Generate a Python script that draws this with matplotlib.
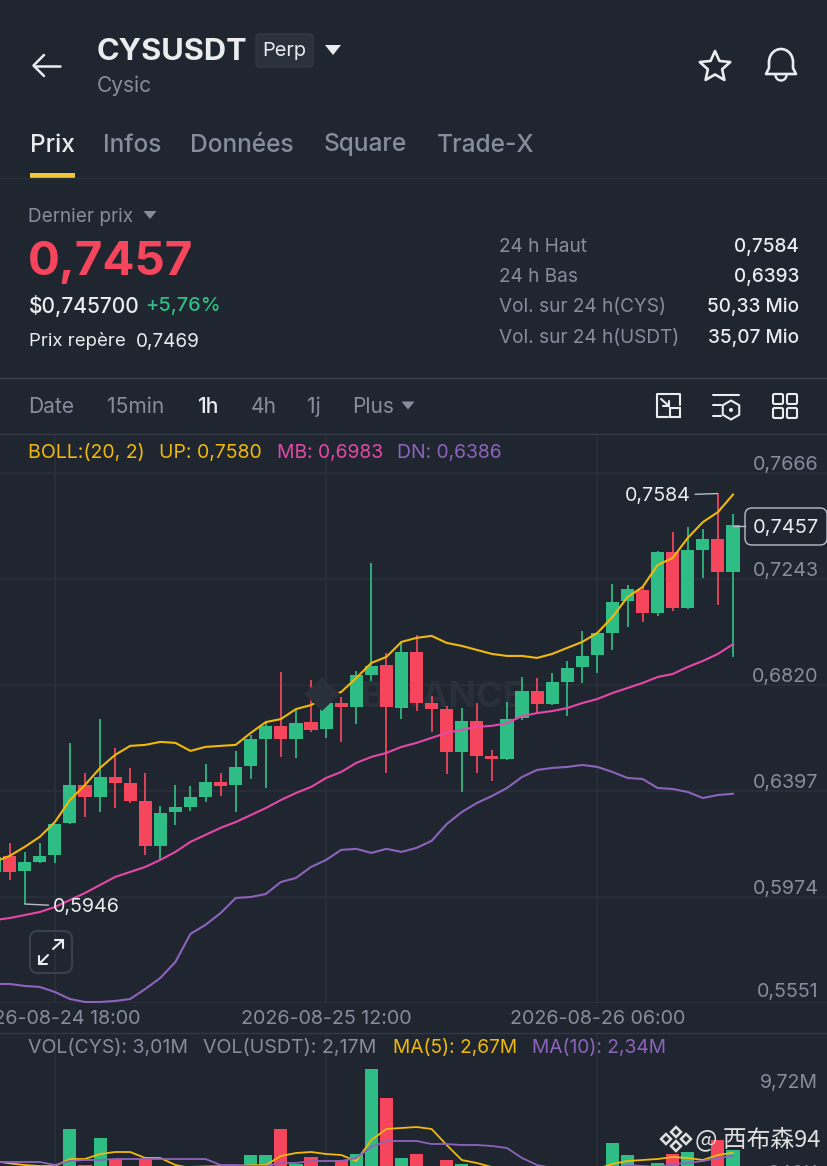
import math
import matplotlib
matplotlib.use("Agg")
import matplotlib.pyplot as plt
from matplotlib.patches import FancyBboxPatch, Polygon, Rectangle, Circle, Arc, RegularPolygon

BG = '#1F2630'; GRID = '#2B313B'; GRAY = '#848E9C'; WHITE = '#EAECEF'
GREEN = '#2EBD85'; RED = '#F6465D'; YELLOW = '#F0B90B'; PINK = '#E548A8'; PURPLE = '#8E63BC'
plt.rcParams['font.family'] = ['Inter', 'DejaVu Sans']

# ---------- data ----------
opens = [.6074,.6138,.6078,.6114,.6142,.6269,.6421,.6373,.6453,.6429,.6357,.6178,.6313,.6333,.6373,.6433,.6421,.6497,.6605,.6656,
         .6605,.6672,.6645,.6748,.6732,.6860,.6900,.6728,.6952,.6748,.6724,.6553,.6676,.6537,.6525,.6688,.6796,.6744,.6832,.6892,
         .6940,.7028,.7155,.7199,.7107,.7351,.7127,.7359,.7403,.7271]
highs = [.6162,.6190,.6154,.6190,.6265,.6589,.6469,.6684,.6569,.6489,.6469,.6337,.6421,.6417,.6505,.6469,.6557,.6621,.6668,.6872,
         .6720,.6840,.6760,.6772,.6876,.7307,.6948,.6988,.7020,.6776,.6736,.6728,.6748,.6561,.6752,.6852,.6848,.6868,.6916,.7036,
         .7028,.7223,.7219,.7211,.7355,.7431,.7451,.7443,.7584,.7502]
lows = [.5994,.6042,.5946,.6110,.6110,.6265,.6293,.6313,.6329,.6349,.6142,.6122,.6261,.6317,.6353,.6377,.6313,.6445,.6409,.6533,
        .6529,.6633,.6609,.6593,.6664,.6836,.6469,.6684,.6716,.6633,.6465,.6393,.6469,.6437,.6521,.6680,.6712,.6740,.6696,.6828,
        .6868,.6960,.7052,.7071,.7095,.7115,.7123,.7247,.7139,.6932]
closes = [.6134,.6074,.6114,.6138,.6265,.6421,.6373,.6453,.6429,.6357,.6178,.6309,.6333,.6373,.6433,.6417,.6493,.6605,.6656,.6605,
          .6668,.6641,.6748,.6732,.6860,.6896,.6732,.6952,.6748,.6724,.6553,.6676,.6537,.6525,.6684,.6796,.6744,.6832,.6888,.6936,
          .7028,.7151,.7203,.7107,.7351,.7127,.7359,.7403,.7271,.7457]
boll_up = [.6114,.6138,.6174,.6214,.6273,.6361,.6421,.6489,.6541,.6577,.6581,.6593,.6589,.6557,.6573,.6577,.6581,.6629,.6672,.6684,
           .6724,.6740,.6772,.6792,.6848,.6908,.6932,.6992,.7008,.7016,.6988,.6976,.6960,.6944,.6936,.6936,.6928,.6944,.6968,.6992,
           .7028,.7091,.7171,.7211,.7299,.7327,.7407,.7470,.7510,.7580]
boll_mb = [.5882,.5890,.5902,.5914,.5934,.5962,.5990,.6022,.6054,.6074,.6094,.6122,.6154,.6194,.6222,.6250,.6273,.6301,.6329,.6361,
           .6389,.6413,.6449,.6473,.6509,.6533,.6549,.6573,.6589,.6609,.6629,.6641,.6653,.6657,.6668,.6696,.6708,.6716,.6728,.6748,
           .6764,.6788,.6808,.6828,.6852,.6864,.6892,.6916,.6944,.6983]
boll_dn = [.5627,.5627,.5619,.5615,.5595,.5567,.5555,.5555,.5559,.5567,.5607,.5651,.5715,.5827,.5863,.5910,.5970,.5974,.5986,.6034,
           .6050,.6094,.6122,.6162,.6166,.6150,.6166,.6154,.6170,.6198,.6265,.6313,.6349,.6377,.6409,.6453,.6481,.6489,.6493,.6501,
           .6493,.6473,.6449,.6445,.6409,.6405,.6393,.6369,.6381,.6386]
volumes = [1.0,1.0,1.0,1.0,1.0,5.28,1.32,4.29,1.98,1.0,1.98,1.0,1.0,1.0,1.0,1.0,1.0,2.42,2.42,5.28,
           1.43,2.2,1.0,1.87,2.53,11.88,8.69,2.09,2.53,1.0,1.87,1.43,1.0,1.0,1.0,1.0,1.0,1.0,1.0,1.0,
           1.0,3.74,2.42,1.0,1.54,2.53,2.75,1.0,4.07,3.01]
vol_ma5 = [1.76,1.5,1.32,1.21,1.21,1.98,1.98,2.53,2.75,2.75,2.09,2.09,1.32,1.0,1.0,1.0,1.0,1.1,1.32,2.31,
           2.64,2.75,2.53,2.42,1.76,4.07,5.28,5.39,5.5,5.28,3.52,1.87,1.54,1.1,.9,.9,.9,.9,.9,.9,
           .9,1.43,1.76,1.87,1.98,2.2,2.09,1.87,2.42,2.67]
vol_ma10 = [1.65,1.65,1.65,1.65,1.32,1.76,1.87,1.87,1.98,1.98,1.98,1.98,1.98,1.98,1.98,1.32,1.32,1.21,1.21,1.54,
            1.54,1.76,1.76,1.76,2.09,3.3,3.96,3.96,3.96,3.63,3.63,3.52,3.52,3.41,3.19,2.09,1.32,1.0,.9,.9,
            .9,.9,1.32,1.21,1.1,1.43,1.54,1.76,2.09,2.34]
price_ticks = [.7666,.7243,.6820,.6397,.5974,.5551]
price_tick_labels = ['0,7666','0,7243','0,6820','0,6397','0,5974','0,5551']
vol_tick_labels = ['9,72M','840K']
time_ticks = [4,22,40]
time_labels = ['2026-08-24 18:00','2026-08-25 12:00','2026-08-26 06:00']
tabs = [('Prix',30),('Infos',103.5),('Données',190.5),('Square',323.5),('Trade-X',436.5)]
stats = [('24 h Haut','0,7584'),('24 h Bas','0,6393'),('Vol. sur 24 h(CYS)','50,33 Mio'),('Vol. sur 24 h(USDT)','35,07 Mio')]
periods = [('Date',28.5),('15min',107.5),('1h',197),('4h',251),('1j',307),('Plus',352.5)]

W, H = 828, 1166
fig = plt.figure(figsize=(W/100, H/100), dpi=100, facecolor=BG)

def axes_px(top, bottom):
    return fig.add_axes([0, 1-bottom/H, 1, (bottom-top)/H], facecolor='none')

XLIM = (49-733/15.07, 49+95/15.07)
n = len(opens)
xs = list(range(n))

# ---------- price panel ----------
ax = axes_px(434, 1003)
ax.set_xlim(*XLIM)
ax.set_ylim(.5551, .7666+39*.000399)
ax.set_yticks(price_ticks); ax.set_yticklabels([])
ax.set_xticks(time_ticks); ax.set_xticklabels(time_labels, color=GRAY, fontsize=14.2)
ax.tick_params(length=0, pad=5)
ax.grid(True, color=GRID, lw=1.1, zorder=0)
for s in ax.spines.values():
    s.set_visible(False)
for t, lab in zip(price_ticks, price_tick_labels):
    lift = 11 if t == min(price_ticks) else 8
    ax.annotate(lab, (1, t), xycoords=('axes fraction','data'), xytext=(-9.5, lift), textcoords='offset pixels',
                ha='right', va='center', color=GRAY, fontsize=14.2)

wm = '#2A303A'
ax.annotate('BINANCE', (0, .6820), xycoords=('axes fraction','data'), xytext=(361, -13), textcoords='offset pixels',
            ha='left', va='center', color=wm, fontsize=26, fontweight='bold', zorder=1)

colors = [GREEN if c >= o else RED for o, c in zip(opens, closes)]
ax.vlines(xs, lows, highs, colors=colors, lw=1.25, zorder=3)
ax.bar(xs, [abs(c-o) for o, c in zip(opens, closes)], bottom=[min(o, c) for o, c in zip(opens, closes)],
       width=.87, color=colors, zorder=3, lw=0)
ax.plot(xs, boll_up, color=YELLOW, lw=1.5, zorder=4)
ax.plot(xs, boll_mb, color=PINK, lw=1.5, zorder=4)
ax.plot(xs, boll_dn, color=PURPLE, lw=1.5, zorder=4)

ax.annotate('0,7584', xy=(48, max(highs)), xytext=(-27, -2), textcoords='offset pixels', ha='right', va='center',
            color=WHITE, fontsize=14.2, zorder=6, arrowprops=dict(arrowstyle='-', color='#B7BDC6', lw=1, shrinkA=1, shrinkB=0))
ax.annotate('0,5946', xy=(2, min(lows)), xytext=(28, -3), textcoords='offset pixels', ha='left', va='center',
            color=WHITE, fontsize=14.2, zorder=6, arrowprops=dict(arrowstyle='-', color='#B7BDC6', lw=1, shrinkA=1, shrinkB=0))

# ---------- volume panel ----------
vx = axes_px(1033, H)
vx.set_xlim(*XLIM)
vx.set_ylim(1.21, 15.84)
vx.set_xticks(time_ticks); vx.set_xticklabels([])
vx.set_yticks([]); vx.tick_params(length=0)
vx.grid(True, axis='x', color=GRID, lw=1.1, zorder=0)
for s in vx.spines.values():
    s.set_visible(False)
vx.bar(xs, volumes, width=.87, color=colors, zorder=3, lw=0)
vx.plot(xs, vol_ma5, color=YELLOW, lw=1.3, zorder=4)
vx.plot(xs, vol_ma10, color=PURPLE, lw=1.3, zorder=4)

# ---------- UI overlay in pixel coordinates ----------
ui = fig.add_axes([0, 0, 1, 1], facecolor='none', zorder=10)
ui.set_xlim(0, W); ui.set_ylim(H, 0); ui.axis('off')

def T(x, y, s, px=20, color=WHITE, weight='normal', ha='left', family=None):
    kw = {'family': family} if family else {}
    return ui.text(x, y + 2, s, fontsize=px*.72, color=color, fontweight=weight, ha=ha, va='center', **kw)

def L(xs_, ys_, color=WHITE, lw=1.5):
    ui.plot(xs_, ys_, color=color, lw=lw, solid_capstyle='round', solid_joinstyle='round')

def tri(cx, cy, w, h, color):
    ui.add_patch(Polygon([(cx-w/2, cy-h/2), (cx+w/2, cy-h/2), (cx, cy+h/2)], closed=True, color=color, lw=0))

for y, c in [(178, '#2A303A'), (378, '#3A414C'), (434, '#343A45'), (1033, '#343A45')]:
    ui.plot([0, W], [y, y], color=c, lw=1)

# header
L([34, 60], [65.5, 65.5], lw=1.8); L([44, 33.5, 44], [55, 65.5, 76], lw=1.8)
T(96.5, 50, 'CYSUSDT', 30.8, '#EAECEF', 'bold')
ui.add_patch(FancyBboxPatch((256, 34), 57, 33, boxstyle='round,pad=0,rounding_size=4', fc='#2B313B', ec='#343A45', lw=1))
T(284.5, 49.5, 'Perp', 20, WHITE, ha='center')
tri(333, 50, 16, 10, WHITE)
T(96.5, 83.5, 'Cysic', 21, GRAY)

# star
pts = []
for k in range(10):
    r = 16 if k % 2 == 0 else 7.5
    a = -math.pi/2 + k*math.pi/5
    pts.append((715 + r*math.cos(a), 67 + r*math.sin(a)))
ui.add_patch(Polygon(pts, closed=True, fill=False, ec=WHITE, lw=1.9, joinstyle='round'))
# bell
ui.add_patch(Arc((781, 62), 24, 26, theta1=180, theta2=360, ec=WHITE, lw=1.9))
L([769, 769, 766, 796, 793, 793], [62, 68, 74, 74, 68, 62], lw=1.9)
ui.add_patch(Arc((781, 75), 11, 11, theta1=0, theta2=180, ec=WHITE, lw=1.7))

# tabs
for i, (s, x) in enumerate(tabs):
    T(x, 143, s, 24.5, WHITE if i == 0 else GRAY, 'medium')
ui.add_patch(Rectangle((30, 172.5), 45, 5, color='#F0C93A', lw=0))

# price block
T(28.5, 215, 'Dernier prix', 19, GRAY)
tri(150, 215, 13, 8, GRAY)
T(28, 261, '0,7457', 47.5, RED, 'bold')
T(29, 304, '$0,745700', 21, WHITE, 'medium')
T(145, 304, '+5,76%', 20, GREEN, 'medium')
T(29, 339.5, 'Prix repère', 18.6, WHITE)
T(136, 339.5, '0,7469', 19, WHITE)
for (a, b), y in zip(stats, [245, 275, 305, 336]):
    T(499, y, a, 19, GRAY)
    T(799, y, b, 19, WHITE, 'medium', ha='right')

# period bar
for s, x in periods:
    T(x, 405, s, 21, WHITE if s == '1h' else GRAY, 'medium' if s == '1h' else 'normal')
tri(408, 405.5, 13, 8, GRAY)

# toolbar icons
c = '#EAECEF'
L([668, 657, 657, 668], [394, 394, 417, 417], c, 1.5)
L([669, 680, 680], [394, 394, 405], c, 1.5)
ui.add_patch(Rectangle((670, 408), 10, 9, fill=False, ec=c, lw=1.5))
L([661, 669], [399, 406], c, 1.5); L([669, 669, 663], [401, 406, 406], c, 1.5)
L([713, 739], [395, 395], c, 1.5); L([713, 721], [405, 405], c, 1.5); L([713, 721], [416, 416], c, 1.5)
ui.add_patch(RegularPolygon((731, 410), 6, radius=9.5, fill=False, ec=c, lw=1.5))
ui.add_patch(Circle((731, 410), 2, color=c, lw=0))
for xx in (773, 787):
    for yy in (394, 408):
        ui.add_patch(FancyBboxPatch((xx, yy), 10, 10, boxstyle='round,pad=0,rounding_size=1.5', fill=False, ec=c, lw=1.5))

# legends
T(28.5, 451, 'BOLL:(20, 2)', 19.5, YELLOW)
T(159, 451, 'UP: 0,7580', 19.5, YELLOW)
T(277, 451, 'MB: 0,6983', 19.3, PINK)
T(397, 451, 'DN: 0,6386', 19.3, PURPLE)
T(28.5, 1046, 'VOL(CYS): 3,01M', 19.5, GRAY)
T(203.5, 1046, 'VOL(USDT): 2,17M', 19.6, GRAY)
T(393, 1046, 'MA(5): 2,67M', 19.2, YELLOW)
T(532, 1046, 'MA(10): 2,34M', 19.2, PURPLE)
T(818, 1081, vol_tick_labels[0], 19.5, GRAY, ha='right')
T(818, 1172, vol_tick_labels[1], 19.5, GRAY, ha='right')

# last price tag
ui.plot([733, 745], [526, 526], color='#B7BDC6', lw=1)
ui.add_patch(FancyBboxPatch((745, 508), 82, 37, boxstyle='round,pad=0,rounding_size=7', fc=BG, ec='#B7BDC6', lw=1))
T(786, 525.5, '0,7457', 20, WHITE, ha='center')

# expand button
ui.add_patch(FancyBboxPatch((30, 931), 42, 42, boxstyle='round,pad=0,rounding_size=8', fill=False, ec='#3A414C', lw=1.5))
L([53, 63], [949, 940]); L([55, 63, 63], [940, 940, 948])
L([39, 48], [964, 955]); L([39, 39, 47], [956, 964, 964])

# watermark logo in chart
ui.add_patch(Polygon([(322, 677), (340, 694), (322, 711), (304, 694)], closed=True, fc='#2A303A', lw=0, zorder=0))

# bottom watermark
w2 = '#E0E0E0'
for cx, cy in [(676, 1132), (676, 1146), (666, 1139), (686, 1139)]:
    ui.add_patch(Polygon([(cx, cy-5), (cx+5, cy), (cx, cy+5), (cx-5, cy)], closed=True, fill=False, ec=w2, lw=1.8))
T(695, 1137, '@ 西布森94', 23.8, w2, family=['Noto Sans CJK SC', 'DejaVu Sans'])

fig.savefig('out.png', dpi=100, facecolor=BG)
